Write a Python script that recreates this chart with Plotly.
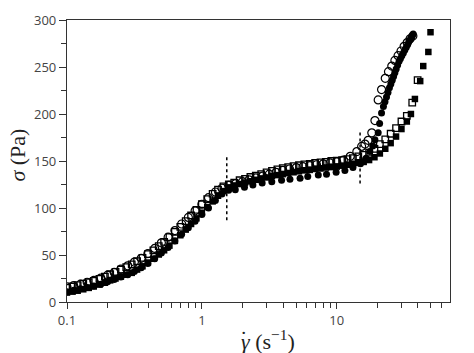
import plotly.graph_objects as go

# ---------------- data ----------------
x_sq = [0.100, 0.110, 0.120, 0.132, 0.145, 0.158, 0.174, 0.191, 0.209, 0.229,
        0.251, 0.275, 0.302, 0.331, 0.363, 0.398, 0.437, 0.479, 0.525, 0.575,
        0.631, 0.692, 0.759, 0.832, 0.912, 1.000, 1.096, 1.202, 1.318, 1.445,
        1.585, 1.738, 1.905, 2.089, 2.291, 2.512, 2.754, 3.020, 3.311, 3.631,
        3.981, 4.365, 4.786, 5.248, 5.754, 6.310, 6.918, 7.586, 8.318, 9.120,
        10.00, 10.96, 12.02, 13.18, 14.45, 15.85, 17.38, 19.05, 20.89, 22.91,
        25.12, 27.54, 30.20, 33.11, 36.31, 39.81]
y_sq_open = [15, 16.5, 18, 19.5, 21, 22.5, 24.5, 27, 29.5, 32,
             34.5, 37, 40, 43.5, 47, 51, 55, 59.5, 64, 69,
             74.5, 80, 86, 92, 98, 104, 109.5, 115, 119.5, 123,
             125, 127, 129.5, 131, 133, 134.5, 136, 138, 139.5, 141,
             142.5, 143.5, 144.5, 145.5, 146.5, 147, 148, 148.5, 149, 150,
             150.5, 151, 152, 153, 155, 156.5, 159, 163, 168, 173,
             179, 185, 192, 198, 212, 236]

x_sq_fill = [0.100, 0.110, 0.120, 0.132, 0.145, 0.158, 0.174, 0.191, 0.209, 0.229,
             0.251, 0.275, 0.302, 0.331, 0.363, 0.398, 0.437, 0.479, 0.525, 0.575,
             0.631, 0.692, 0.759, 0.832, 0.912, 1.000, 1.096, 1.202, 1.318, 1.445,
             1.585, 1.738, 1.905, 2.089, 2.291, 2.512, 2.754, 3.020, 3.311, 3.631,
             3.981, 4.365, 4.786, 5.248, 5.754, 6.310, 6.918, 7.586, 8.318, 9.120,
             10.00, 10.96, 12.02, 13.18, 14.45, 15.85, 17.38, 19.05, 20.89, 22.91,
             25.12, 27.54, 30.20, 33.11, 35.5, 38.0, 41.6, 43.8, 47.8, 49.6]
y_sq_fill = [10, 11, 12, 13.5, 15, 16.5, 18.5, 20.5, 23, 25,
             27, 29, 31, 34.5, 38, 42, 46, 50.5, 55, 60,
             65, 71, 77, 83, 89, 95, 101, 107, 113, 118,
             122, 124, 125.5, 127, 128.5, 130, 131.5, 132.5, 134, 135,
             136, 137, 138, 139, 140, 140.5, 141.5, 142, 143, 143.5,
             144, 145, 146, 147, 148, 149, 151, 154, 158, 163,
             169, 176, 184, 192, 200, 216, 235, 251, 266, 287]

x_ci_open = [0.100, 0.112, 0.126, 0.141, 0.158, 0.178, 0.200, 0.224, 0.251, 0.282,
             0.316, 0.355, 0.398, 0.447, 0.501, 0.562, 0.631, 0.708, 0.794, 0.891,
             1.00, 1.12, 1.26, 1.41, 1.58, 1.78, 2.00, 2.24, 2.51, 2.82,
             3.16, 3.55, 3.98, 4.47, 5.01, 5.62, 6.31, 7.08, 7.94, 8.91,
             10.0, 11.2, 12.6, 14.1, 15.3, 16.2, 17.1, 18.2, 19.2, 20.3,
             21.5, 22.9, 24.2, 25.6, 27.0, 28.5, 30.0, 31.6, 33.3, 35.0, 36.7]
y_ci_open = [16, 17.5, 19, 21, 23, 25.5, 28.5, 31.5, 35, 38.5,
             42.5, 46.5, 51.5, 57, 63, 69, 76, 83, 90, 97,
             104, 111, 117, 121, 124, 126, 128, 130, 132, 134,
             136, 138, 140, 141.5, 143, 144, 145, 146, 147, 148,
             149, 151, 155, 160, 165.5, 168, 172, 180, 193, 215,
             226, 238, 245, 251, 257, 262, 267, 272, 276, 280, 283]

x_ci_fill = [0.100, 0.112, 0.126, 0.141, 0.158, 0.178, 0.200, 0.224, 0.251, 0.282,
             0.316, 0.355, 0.398, 0.447, 0.501, 0.562, 0.631, 0.708, 0.794, 0.891,
             1.00, 1.12, 1.26, 1.41, 1.58, 1.77, 2.07, 2.39, 2.80, 3.30,
             3.90, 4.50, 5.35, 6.10, 7.30, 8.40, 9.90, 11.5, 13.2, 15.0,
             16.5, 17.6, 18.5, 19.2, 20.3, 20.8, 21.5, 22.2, 22.8, 23.4,
             24.0, 24.6, 25.2, 25.8, 26.4, 27.0, 27.6, 28.3, 29.0, 29.7,
             30.4, 31.2, 32.0, 32.8, 33.6, 34.3, 35.0, 35.7, 36.3, 36.9]
y_ci_fill = [11, 12.5, 14, 15.5, 17, 19, 21.5, 24, 26.5, 29,
             32.5, 36.5, 41, 46, 52, 58, 65, 72, 79, 86,
             93, 100, 108, 115, 119, 119.5, 122, 124.5, 126.5, 128,
             129.5, 130.6, 131.7, 133.4, 135, 136, 138, 140, 143, 147,
             153, 160, 166, 172.6, 180, 190, 201, 208, 213, 218,
             223, 228, 232, 236, 240, 244, 248, 252, 256, 259,
             262, 265, 268, 271, 274, 277, 279, 281, 283, 285]

# dotted guide lines (x position, y start, y end)
guide_x = [1.53, 14.9]
guide_y0 = [87, 126]
guide_y1 = [155, 183]

x_major = [0.1, 1, 10]
x_major_text = ["0.1", "1", "10"]
x_minor = [0.2, 0.3, 0.4, 0.5, 0.6, 0.7, 0.8, 0.9,
           2, 3, 4, 5, 6, 7, 8, 9,
           20, 30, 40, 50, 60]
y_tickvals = [0, 50, 100, 150, 200, 250, 300]

# ---------------- figure ----------------
fig = go.Figure()

fig.add_trace(go.Scatter(x=x_ci_fill, y=y_ci_fill, mode="markers",
                         marker=dict(symbol="circle", size=7, color="black"),
                         showlegend=False))
fig.add_trace(go.Scatter(x=x_sq_fill, y=y_sq_fill, mode="markers",
                         marker=dict(symbol="square", size=6.5, color="black"),
                         showlegend=False))
fig.add_trace(go.Scatter(x=x_sq, y=y_sq_open, mode="markers",
                         marker=dict(symbol="square-open", size=6.5, color="black",
                                     line=dict(width=1.3)),
                         showlegend=False))
fig.add_trace(go.Scatter(x=x_ci_open, y=y_ci_open, mode="markers",
                         marker=dict(symbol="circle-open", size=8, color="black",
                                     line=dict(width=1.2)),
                         showlegend=False))

for gx, g0, g1 in zip(guide_x, guide_y0, guide_y1):
    fig.add_trace(go.Scatter(x=[gx, gx], y=[g0, g1], mode="lines",
                             line=dict(color="black", width=1.5, dash="dot"),
                             showlegend=False))

tick_font = dict(family="Open Sans, sans-serif", size=13, color="#444")
title_font = dict(family="Liberation Serif, serif", size=22, color="#222")

fig.update_layout(
    width=474, height=353,
    margin=dict(l=67, r=24, t=20, b=51),
    paper_bgcolor="white", plot_bgcolor="white",
    xaxis=dict(type="log", range=[-1, 1.84], tickmode="array",
               tickvals=x_major, ticktext=x_major_text, tickangle=0,
               ticks="outside", ticklen=6, tickwidth=1, tickcolor="#333",
               minor=dict(tickmode="array", tickvals=x_minor, ticks="outside",
                          ticklen=5, tickcolor="#333", showgrid=False),
               showline=True, linecolor="#333", linewidth=1.2, mirror=True,
               showgrid=False, zeroline=False, tickfont=tick_font),
    yaxis=dict(range=[0, 300], tickvals=y_tickvals, ticks="outside", ticklen=7,
               tickwidth=1, tickcolor="#333",
               minor=dict(dtick=25, ticks="outside", ticklen=5, tickcolor="#333",
                          showgrid=False),
               showline=True, linecolor="#333", linewidth=1.2, mirror=True,
               showgrid=False, zeroline=False, tickfont=tick_font),
    annotations=[
        dict(text="<i>σ</i> (Pa)", xref="paper", yref="paper", x=-0.13, y=0.52,
             xanchor="center", yanchor="middle", textangle=-90, showarrow=False,
             font=title_font),
        dict(text="<i>γ</i> (s<sup>−1</sup>)", xref="paper", yref="paper", x=0.525, y=-0.133,
             xanchor="center", yanchor="middle", showarrow=False,
             font=title_font),
        dict(text="˙", xref="paper", yref="paper", x=0.525, y=-0.133,
             xanchor="center", yanchor="middle", xshift=-25, yshift=1, showarrow=False,
             font=dict(family="Liberation Serif, serif", size=22, color="#222")),
    ],
)

fig.write_html("out.html")
